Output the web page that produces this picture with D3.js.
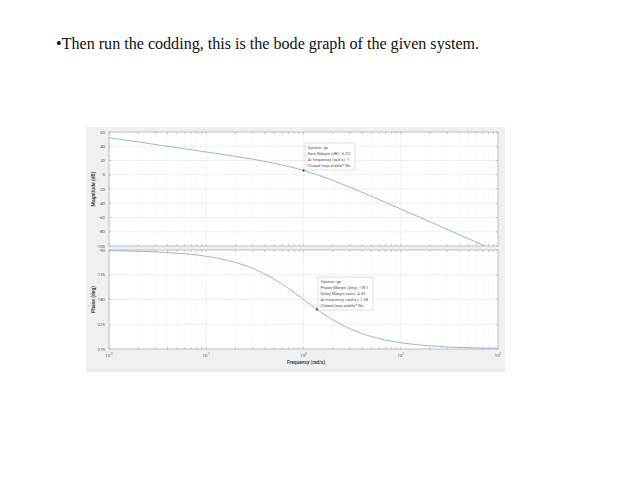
<!DOCTYPE html>
<html>
<head>
<meta charset="utf-8">
<script src="https://cdn.jsdelivr.net/npm/d3@7"></script>
<style>
  body { margin: 0; background: #ffffff; }
  svg { display: block; }
</style>
</head>
<body>
<div id="bode"></div>
<script>
// frequences (rad/s)
const freq = [0.01, 0.02, 0.05, 0.1, 0.2, 0.3, 0.5, 0.7, 1, 1.38, 2, 3, 5, 7, 10, 20, 50, 70, 100]
// magnitude (dB)
const magDb = [52.0, 46.0, 38.0, 32.0, 25.7, 21.8, 16.1, 11.7, 6.0, 0.0, -8.0, -17.5, -30.2, -38.8, -48.0, -66.0, -89.9, -98.7, -108.0]
// phase (deg)
const phaseDeg = [-91.1, -92.3, -95.7, -101.4, -112.6, -123.4, -143.1, -160.0, -180.0, -198.1, -216.9, -233.1, -247.4, -253.7, -258.6, -264.3, -267.7, -268.4, -268.9]

const xTicks = [0.01, 0.1, 1, 10, 100]
const xTickExp = ["-2", "-1", "0", "1", "2"]
const magTicks = [60, 40, 20, 0, -20, -40, -60, -80, -100]
const phaseTicks = [-90, -135, -180, -225, -270]

const gainTip = ["System: gs", "Gain Margin (dB): -6.02", "At frequency (rad/s): 1", "Closed loop stable? No"]
const phaseTip = ["System: gs", "Phase Margin (deg): -18.1", "Delay Margin (sec): 4.33", "At frequency (rad/s): 1.38", "Closed loop stable? No"]

const W = 638, H = 478

const svg = d3.select("#bode")
    .append("svg")
    .attr("width", W)
    .attr("height", H)

//titre de la diapo
svg.append("text")
    .attr("x", 56)
    .attr("y", 49)
    .style("font-family", "'Liberation Serif', 'DejaVu Serif', serif")
    .style("font-size", "16.1px")
    .attr("fill", "#111")
    .text("•Then run the codding, this is the bode graph of the given system.")

//fond gris de la figure
svg.append("rect")
    .attr("x", 86).attr("y", 127)
    .attr("width", 419).attr("height", 244)
    .attr("fill", "#f0f0f0")
svg.append("line")
    .attr("x1", 86).attr("x2", 505)
    .attr("y1", 371).attr("y2", 371)
    .attr("stroke", "#dcdcdc")

const x = d3.scaleLog()
    .domain([0.01, 100])
    .range([109, 498])

const yMag = d3.scaleLinear()
    .domain([-100, 60])
    .range([246, 132])

const yPhase = d3.scaleLinear()
    .domain([-270, -90])
    .range([349, 250])

// petites graduations log
let minor = []
for (let dec = 0.01; dec < 100; dec *= 10) {
    for (let k = 2; k < 10; k++) minor.push(dec * k)
}

function drawAxes(y, ticks, label) {
    const [y0, y1] = y.range()
    const g = svg.append("g")

    g.append("rect")
        .attr("x", x.range()[0]).attr("y", y1)
        .attr("width", x.range()[1] - x.range()[0])
        .attr("height", y0 - y1)
        .attr("fill", "#ffffff")

    //grille mineure
    g.selectAll(".minor")
        .data(minor)
        .join("line")
        .attr("x1", d => x(d)).attr("x2", d => x(d))
        .attr("y1", y1).attr("y2", y0)
        .attr("stroke", "#e6e6e6")
        .attr("stroke-width", 0.5)
        .attr("stroke-dasharray", "1,1.5")

    //grille majeure
    g.selectAll(".vmaj")
        .data(xTicks)
        .join("line")
        .attr("x1", d => x(d)).attr("x2", d => x(d))
        .attr("y1", y1).attr("y2", y0)
        .attr("stroke", "#d4d4d4")
        .attr("stroke-width", 0.6)
        .attr("stroke-dasharray", "1.5,1")

    g.selectAll(".hmaj")
        .data(ticks)
        .join("line")
        .attr("x1", x.range()[0]).attr("x2", x.range()[1])
        .attr("y1", d => y(d)).attr("y2", d => y(d))
        .attr("stroke", "#d4d4d4")
        .attr("stroke-width", 0.6)
        .attr("stroke-dasharray", "1.5,1")

    //ticks haut et bas
    g.selectAll(".tb")
        .data(minor.concat(xTicks))
        .join("path")
        .attr("d", d => "M" + x(d) + "," + y1 + "v2M" + x(d) + "," + y0 + "v-2")
        .attr("stroke", "#999")
        .attr("stroke-width", 0.5)

    g.selectAll(".tl")
        .data(ticks)
        .join("path")
        .attr("d", d => "M" + x.range()[0] + "," + y(d) + "h2M" + x.range()[1] + "," + y(d) + "h-2")
        .attr("stroke", "#999")
        .attr("stroke-width", 0.5)

    g.append("rect")
        .attr("x", x.range()[0]).attr("y", y1)
        .attr("width", x.range()[1] - x.range()[0])
        .attr("height", y0 - y1)
        .attr("fill", "none")
        .attr("stroke", "#b4b4b4")
        .attr("stroke-width", 0.7)

    g.selectAll(".ylab")
        .data(ticks)
        .join("text")
        .attr("x", x.range()[0] - 4)
        .attr("y", d => y(d) + 1.5)
        .attr("text-anchor", "end")
        .style("font-family", "Roboto, sans-serif")
        .style("font-size", "4.3px")
        .attr("fill", "#555")
        .text(d => d)

    svg.append("text")
        .attr("transform", "translate(95," + (y0 + y1) / 2 + ") rotate(-90)")
        .attr("text-anchor", "middle")
        .style("font-family", "Roboto, sans-serif")
        .style("font-size", "5px")
        .style("font-weight", "bold")
        .attr("fill", "#444")
        .text(label)
}

drawAxes(yMag, magTicks, "Magnitude (dB)")
drawAxes(yPhase, phaseTicks, "Phase (deg)")

// labels de l'axe x (10^n)
const xl = svg.append("g")
    .selectAll("text")
    .data(xTicks)
    .join("text")
    .attr("x", d => x(d))
    .attr("y", 357)
    .attr("text-anchor", "middle")
    .style("font-family", "Roboto, sans-serif")
    .style("font-size", "4.3px")
    .attr("fill", "#555")
xl.append("tspan").text("10")
xl.append("tspan")
    .attr("dy", -1.6)
    .style("font-size", "3px")
    .text((d, i) => xTickExp[i])

svg.append("text")
    .attr("x", 306)
    .attr("y", 364)
    .attr("text-anchor", "middle")
    .style("font-family", "Roboto, sans-serif")
    .style("font-size", "4.8px")
    .style("font-weight", "bold")
    .attr("fill", "#444")
    .text("Frequency (rad/s)")

//clip pour les courbes
const defs = svg.append("defs")
defs.append("clipPath").attr("id", "clipMag")
    .append("rect")
    .attr("x", 109).attr("y", 132).attr("width", 389).attr("height", 114)
defs.append("clipPath").attr("id", "clipPhase")
    .append("rect")
    .attr("x", 109).attr("y", 250).attr("width", 389).attr("height", 99)

const magLine = d3.line()
    .x((d, i) => x(freq[i]))
    .y(d => yMag(d))
    .curve(d3.curveMonotoneX)

const phaseLine = d3.line()
    .x((d, i) => x(freq[i]))
    .y(d => yPhase(d))
    .curve(d3.curveMonotoneX)

svg.append("path")
    .datum(magDb)
    .attr("clip-path", "url(#clipMag)")
    .attr("d", magLine)
    .attr("fill", "none")
    .attr("stroke", "#8fbcd8")
    .attr("stroke-width", 1)

svg.append("path")
    .datum(phaseDeg)
    .attr("clip-path", "url(#clipPhase)")
    .attr("d", phaseLine)
    .attr("fill", "none")
    .attr("stroke", "#8fbcd8")
    .attr("stroke-width", 1)

//datatips
function dataTip(px, py, bx, by, bw, lines) {
    svg.append("circle")
        .attr("cx", px).attr("cy", py)
        .attr("r", 1.1)
        .attr("fill", "#222")
    const bh = lines.length * 6 + 3
    svg.append("rect")
        .attr("x", bx).attr("y", by)
        .attr("width", bw).attr("height", bh)
        .attr("fill", "#ffffff")
        .attr("fill-opacity", 0.9)
        .attr("stroke", "#c8c8c8")
        .attr("stroke-width", 0.6)
    svg.append("g")
        .selectAll("text")
        .data(lines)
        .join("text")
        .attr("x", bx + 2.5)
        .attr("y", (d, i) => by + 6 + i * 6)
        .style("font-family", "Roboto, sans-serif")
        .style("font-size", "4.2px")
        .attr("fill", "#555")
        .text(d => d)
}

dataTip(x(1), yMag(magDb[8]), 305, 143, 50, gainTip)
dataTip(x(freq[9]), yPhase(phaseDeg[9]), 318, 277, 55, phaseTip)
</script>
</body>
</html>
